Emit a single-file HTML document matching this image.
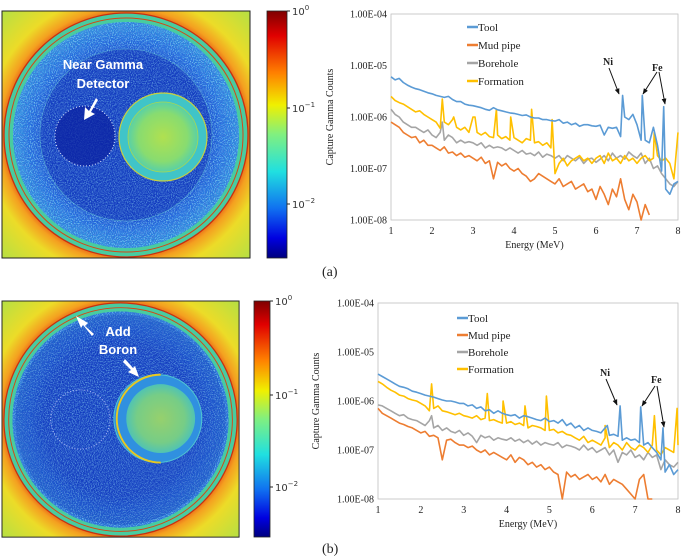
<!DOCTYPE html>
<html><head><meta charset="utf-8">
<style>
html,body{margin:0;padding:0;background:#fff;}
svg{display:block;}
.tk{font-family:"Liberation Serif",serif;font-size:10px;fill:#222;}
.lg{font-family:"Liberation Serif",serif;font-size:11px;fill:#222;}
.cb{font-family:"DejaVu Sans","Liberation Sans",sans-serif;font-size:10px;fill:#333;}
.ann{font-family:"Liberation Sans",sans-serif;font-weight:bold;font-size:13px;fill:#fff;}
</style></head>
<body>
<svg id="fig" width="685" height="560" viewBox="0 0 685 560" xmlns="http://www.w3.org/2000/svg">
<defs>
  <linearGradient id="jet" x1="0" y1="0" x2="0" y2="1">
    <stop offset="0" stop-color="#7f0000"/>
    <stop offset="0.1" stop-color="#e00000"/>
    <stop offset="0.25" stop-color="#ff8000"/>
    <stop offset="0.38" stop-color="#f0f000"/>
    <stop offset="0.5" stop-color="#80f080"/>
    <stop offset="0.65" stop-color="#20e0e0"/>
    <stop offset="0.8" stop-color="#1070f0"/>
    <stop offset="0.92" stop-color="#0000e0"/>
    <stop offset="1" stop-color="#00007f"/>
  </linearGradient>
  <radialGradient id="corner" gradientUnits="userSpaceOnUse" cx="124" cy="124" r="176">
    <stop offset="0.68" stop-color="#e86018"/>
    <stop offset="0.72" stop-color="#f4a020"/>
    <stop offset="0.8" stop-color="#ecdc28"/>
    <stop offset="1" stop-color="#b4e044"/>
  </radialGradient>
  <radialGradient id="field" gradientUnits="userSpaceOnUse" cx="124" cy="124" r="113">
    <stop offset="0.7" stop-color="#1444c8"/>
    <stop offset="0.85" stop-color="#2070e0"/>
    <stop offset="1" stop-color="#3098e0"/>
  </radialGradient>
  <radialGradient id="core" cx="0.5" cy="0.5" r="0.5">
    <stop offset="0" stop-color="#b0e050"/>
    <stop offset="0.7" stop-color="#88dc70"/>
    <stop offset="1" stop-color="#58d0a8"/>
  </radialGradient>
  <filter id="noise" x="0" y="0" width="100%" height="100%">
    <feTurbulence type="fractalNoise" baseFrequency="0.9" numOctaves="1" seed="4"/>
    <feColorMatrix type="matrix" values="0 0 0 0 0.05  0 0 0 0 0.15  0 0 0 0 0.7  0 0 0 4 -1.7"/>
  </filter>
  <filter id="noise2" x="0" y="0" width="100%" height="100%">
    <feTurbulence type="fractalNoise" baseFrequency="0.95" numOctaves="1" seed="11"/>
    <feColorMatrix type="matrix" values="0 0 0 0 0.3  0 0 0 0 0.8  0 0 0 0 0.95  0 0 0 4 -1.9"/>
  </filter>
  <clipPath id="clipA"><circle cx="124" cy="124" r="113"/></clipPath>
</defs>

<!-- Heatmap (a) -->
<g transform="translate(2,11)">
  <rect width="248" height="247" fill="url(#corner)"/>
  <circle cx="124" cy="124" r="122" fill="#48cca0" stroke="#c83010" stroke-width="1.3"/>
  <circle cx="124" cy="124" r="117" fill="none" stroke="#d04818" stroke-width="1"/>
  <circle cx="124" cy="124" r="113" fill="url(#field)"/>
  <circle cx="124" cy="124" r="86" fill="#1038c0" opacity="0.45"/>
  <circle cx="124" cy="124" r="86" fill="none" stroke="#60d0d0" stroke-width="0.6"/>
  <g clip-path="url(#clipA)">
    <rect width="248" height="247" filter="url(#noise)" opacity="0.9"/>
    <rect width="248" height="247" filter="url(#noise2)" opacity="0.7"/>
  </g>
  <circle cx="124" cy="124" r="86" fill="#0c30b0" opacity="0.3"/>
  <circle cx="83" cy="125" r="30" fill="#0a20a0" opacity="0.7"/>
  <circle cx="83" cy="125" r="30" fill="none" stroke="#e0e8ff" stroke-width="1" stroke-dasharray="1 2"/>
  <circle cx="161" cy="126" r="44" fill="#40c4c8" stroke="#c8d040" stroke-width="1.2"/>
  <circle cx="161" cy="126" r="35" fill="url(#core)" stroke="#a8d850" stroke-width="0.8"/>
  <rect width="248" height="247" fill="none" stroke="#222" stroke-width="1"/>
</g>
<text class="ann" x="103" y="69" text-anchor="middle">Near Gamma</text>
<text class="ann" x="103" y="88" text-anchor="middle">Detector</text>
<path d="M96,98 L89,111 L85,107 L84,120 L95,114 L91,112 L98,100 Z" fill="#fff"/>

<!-- Colorbar (a) -->
<g>
  <rect x="267" y="11" width="20" height="247" fill="url(#jet)" stroke="#222" stroke-width="0.8"/>
  <line x1="287" y1="11" x2="290" y2="11" stroke="#222"/>
  <line x1="287" y1="108" x2="290" y2="108" stroke="#222"/>
  <line x1="287" y1="204" x2="290" y2="204" stroke="#222"/>
  <text class="cb" x="292" y="15">10<tspan dy="-5" font-size="7">0</tspan></text>
  <text class="cb" x="292" y="112">10<tspan dy="-5" font-size="7">−1</tspan></text>
  <text class="cb" x="292" y="208">10<tspan dy="-5" font-size="7">−2</tspan></text>
</g>

<!-- Heatmap (b) -->
<g transform="translate(2,301) scale(0.956)">
  <rect width="248" height="247" fill="url(#corner)"/>
  <circle cx="124" cy="124" r="122" fill="#48cca0" stroke="#c83010" stroke-width="1.3"/>
  <circle cx="124" cy="124" r="117" fill="none" stroke="#d04818" stroke-width="1"/>
  <circle cx="124" cy="124" r="113" fill="url(#field)"/>
  <circle cx="124" cy="124" r="113" fill="#1038c0" opacity="0.35"/>
  <g clip-path="url(#clipA)">
    <rect width="248" height="247" filter="url(#noise)" opacity="0.9"/>
    <rect width="248" height="247" filter="url(#noise2)" opacity="0.7"/>
  </g>
  <circle cx="124" cy="124" r="110" fill="#0c30b0" opacity="0.25"/>
  <circle cx="82" cy="124" r="31" fill="none" stroke="#c0c8ff" stroke-width="1" stroke-dasharray="1 2"/>
  <circle cx="163" cy="123" r="46" fill="#3090e0" stroke="#50c8d0" stroke-width="1"/>
  <path d="M166,77 A46,46 0 0 0 166,169" fill="none" stroke="#e8c820" stroke-width="2"/>
  <circle cx="166" cy="123" r="36" fill="url(#core)" opacity="0.8"/>
  <rect width="248" height="247" fill="none" stroke="#222" stroke-width="1"/>
</g>
<text class="ann" x="118" y="336" text-anchor="middle">Add</text>
<text class="ann" x="118" y="354" text-anchor="middle">Boron</text>
<path d="M94,334 L85,326 L88,323 L76,316 L81,328 L83,325 L92,336 Z" fill="#fff"/>
<path d="M123,362 L131,370 L128,372 L139,377 L135,366 L133,368 L125,359 Z" fill="#fff"/>

<!-- Colorbar (b) -->
<g>
  <rect x="254" y="301" width="16" height="236" fill="url(#jet)" stroke="#222" stroke-width="0.8"/>
  <line x1="270" y1="301" x2="273" y2="301" stroke="#222"/>
  <line x1="270" y1="395" x2="273" y2="395" stroke="#222"/>
  <line x1="270" y1="487" x2="273" y2="487" stroke="#222"/>
  <text class="cb" x="275" y="305">10<tspan dy="-5" font-size="7">0</tspan></text>
  <text class="cb" x="275" y="399">10<tspan dy="-5" font-size="7">−1</tspan></text>
  <text class="cb" x="275" y="491">10<tspan dy="-5" font-size="7">−2</tspan></text>
</g>

<g id="chartA"></g>
<g id="chartB"></g>
<text x="322" y="276" font-family="Liberation Serif,serif" font-size="14" fill="#222">(a)</text>
<text x="322" y="553" font-family="Liberation Serif,serif" font-size="14" fill="#222">(b)</text>
</svg>

<script>
// Shared energy grid (MeV)
const energies = [1.0,1.1,1.2,1.3,1.4,1.5,1.6,1.7,1.8,1.9,2.0,2.1,2.2,2.3,2.4,2.5,2.6,2.7,2.8,2.9,3.0,3.1,3.2,3.3,3.4,3.5,3.6,3.7,3.8,3.9,4.0,4.1,4.2,4.3,4.4,4.5,4.6,4.7,4.8,4.9,5.0,5.1,5.2,5.3,5.4,5.5,5.6,5.7,5.8,5.9,6.0,6.1,6.2,6.3,6.4,6.5,6.6,6.7,6.8,6.9,7.0,7.1,7.2,7.3,7.4,7.5,7.6,7.7,7.8,7.9,8.0];
const xTicks = [1,2,3,4,5,6,7,8];
const yTickLabels = ["1.00E-04","1.00E-05","1.00E-06","1.00E-07","1.00E-08"];
const yTickExps = [-4,-5,-6,-7,-8];
const seriesNames = ["Tool","Mud pipe","Borehole","Formation"];
const seriesColors = ["#5b9bd5","#ed7d31","#a5a5a5","#ffc000"];

// Panel (a): log10 of capture gamma counts
const toolA = [-5.22,-5.28,-5.25,-5.33,-5.38,-5.42,-5.45,-5.47,-5.5,-5.53,-5.55,-5.58,-5.6,-5.62,-5.6,-5.66,-5.7,-5.7,-5.75,-5.77,-5.78,-5.8,-5.82,-5.85,-5.87,-5.82,-5.86,-5.88,-5.9,-5.92,-5.93,-5.95,-5.97,-5.96,-6.0,-6.02,-6.02,-6.05,-6.05,-6.07,-6.08,-6.05,-6.12,-6.1,-6.15,-6.12,-6.18,-6.15,-6.15,-6.17,-6.18,-6.16,-6.35,-6.2,-6.22,-6.2,-6.38,-6.0,-6.05,-5.95,-6.15,-6.45,-6.45,-6.5,-6.2,-6.55,-7.05,-7.4,-7.5,-7.3,-7.25];
const toolAPeakE = [6.65,7.13,7.65];
const toolAPeakV = [-5.58,-5.58,-5.8];
const mudA = [-6.1,-6.15,-6.2,-6.3,-6.35,-6.4,-6.38,-6.5,-6.45,-6.55,-6.55,-6.6,-6.65,-6.58,-6.7,-6.68,-6.75,-6.7,-6.78,-6.75,-6.8,-6.85,-6.78,-6.9,-6.85,-7.2,-6.88,-6.95,-6.9,-7.0,-7.05,-7.0,-7.1,-7.15,-7.25,-7.2,-7.1,-7.15,-7.2,-7.25,-7.3,-7.2,-7.35,-7.3,-7.25,-7.4,-7.35,-7.3,-7.45,-7.4,-7.6,-7.35,-7.5,-7.7,-7.4,-7.55,-7.2,-7.6,-7.8,-7.5,-7.65,-8.0,-7.7,-7.9];
const mudAPeakE = [];
const mudAPeakV = [];
const boreA = [-5.85,-5.95,-6.0,-6.1,-6.15,-6.2,-6.2,-6.25,-6.3,-6.25,-6.35,-6.4,-6.3,-6.45,-6.35,-6.4,-6.5,-6.45,-6.5,-6.48,-6.5,-6.55,-6.5,-6.6,-6.55,-6.6,-6.58,-6.6,-6.65,-6.6,-6.65,-6.7,-6.65,-6.72,-6.7,-6.75,-6.68,-6.78,-6.72,-6.75,-6.8,-6.75,-6.85,-6.75,-6.8,-6.85,-6.78,-6.9,-6.82,-6.8,-6.88,-6.82,-6.75,-6.85,-6.7,-6.8,-6.75,-6.82,-6.68,-6.75,-6.8,-6.7,-6.9,-6.8,-7.0,-6.95,-7.1,-7.2,-7.3,-7.35,-7.25];
const boreAPeakE = [2.25];
const boreAPeakV = [-6.1];
const formA = [-5.6,-5.68,-5.72,-5.75,-5.8,-5.85,-5.9,-5.88,-5.95,-6.0,-6.05,-6.1,-6.22,-6.1,-6.15,-6.05,-6.2,-6.25,-6.2,-6.3,-6.0,-6.3,-6.35,-6.3,-6.38,-6.4,-6.35,-6.42,-6.38,-6.45,-6.4,-6.45,-6.5,-6.42,-6.45,-6.5,-6.48,-6.55,-6.5,-6.6,-7.1,-6.9,-6.8,-6.95,-6.85,-6.8,-6.75,-6.85,-6.8,-6.9,-6.8,-6.75,-6.9,-6.7,-6.85,-6.8,-6.9,-6.75,-6.85,-6.8,-6.9,-6.8,-6.75,-6.85,-6.8,-6.75,-6.85,-6.8,-6.9,-7.2,-6.3];
const formAPeakE = [2.25,2.53,3.05,3.57,3.92,4.43,4.93,7.42];
const formAPeakV = [-5.65,-6.0,-6.0,-5.85,-6.0,-5.85,-6.05,-6.3];

// Panel (b)
const toolB = [-5.45,-5.5,-5.55,-5.6,-5.65,-5.7,-5.72,-5.75,-5.8,-5.82,-5.85,-5.88,-5.9,-5.92,-5.95,-5.98,-6.0,-6.0,-6.02,-6.05,-6.05,-6.1,-6.08,-6.15,-6.12,-6.2,-6.18,-6.25,-6.2,-6.25,-6.28,-6.3,-6.28,-6.35,-6.3,-6.32,-6.35,-6.38,-6.4,-6.35,-6.42,-6.4,-6.45,-6.38,-6.5,-6.45,-6.55,-6.5,-6.6,-6.55,-6.6,-6.62,-6.65,-6.55,-6.7,-6.68,-6.72,-6.8,-6.75,-6.8,-6.78,-6.85,-6.9,-6.85,-6.95,-7.05,-7.2,-7.45,-7.3,-7.5,-7.4];
const toolBPeakE = [6.35,6.65,7.13,7.65];
const toolBPeakV = [-6.5,-6.1,-6.12,-6.55];
const mudB = [-6.15,-6.25,-6.3,-6.35,-6.4,-6.45,-6.48,-6.52,-6.55,-6.6,-6.65,-6.62,-6.72,-6.7,-6.75,-7.2,-6.8,-6.78,-6.85,-6.9,-6.9,-6.95,-6.92,-7.0,-7.05,-7.0,-7.1,-7.05,-7.1,-7.15,-7.2,-7.1,-7.25,-7.15,-7.2,-7.3,-7.25,-7.35,-7.3,-7.4,-7.35,-7.45,-7.5,-8.0,-7.45,-7.55,-7.5,-7.6,-7.55,-7.5,-7.6,-7.55,-7.65,-7.5,-7.7,-7.6,-7.65,-7.7,-7.8,-7.9,-8.0,-7.6,-7.5,-8.0,-8.0];
const mudBPeakE = [];
const mudBPeakV = [];
const boreB = [-6.08,-6.1,-6.15,-6.2,-6.25,-6.3,-6.28,-6.35,-6.38,-6.4,-6.45,-6.5,-6.4,-6.55,-6.5,-6.6,-6.55,-6.62,-6.65,-6.6,-6.7,-6.65,-6.72,-6.85,-6.7,-6.75,-6.72,-6.8,-6.75,-6.78,-6.8,-6.75,-6.82,-6.78,-6.85,-6.8,-6.88,-6.82,-6.9,-6.85,-6.88,-6.9,-6.85,-6.95,-6.9,-6.92,-6.95,-7.0,-6.9,-7.0,-6.95,-7.05,-7.0,-6.95,-7.1,-7.0,-7.25,-7.05,-7.1,-7.0,-7.15,-7.1,-7.2,-7.05,-7.15,-7.1,-7.4,-7.2,-7.3,-7.35,-7.25];
const boreBPeakE = [2.25];
const boreBPeakV = [-6.3];
const formB = [-5.6,-5.65,-5.72,-5.78,-5.82,-5.88,-5.9,-5.95,-5.98,-6.0,-6.05,-6.1,-6.2,-6.15,-6.1,-6.2,-6.22,-6.25,-6.28,-6.25,-6.3,-6.32,-6.35,-6.3,-6.38,-6.35,-6.4,-6.38,-6.42,-6.45,-6.45,-6.42,-6.48,-6.45,-6.5,-6.55,-6.5,-6.52,-6.55,-6.6,-6.6,-6.58,-6.65,-6.62,-6.68,-6.7,-6.75,-6.8,-6.72,-6.85,-6.8,-6.85,-6.9,-6.75,-6.95,-6.85,-6.9,-7.0,-6.85,-6.95,-7.0,-6.9,-6.95,-7.05,-6.9,-7.0,-7.1,-6.95,-7.0,-7.05,-6.9];
const formBPeakE = [2.25,3.55,3.92,4.43,4.93,6.3,7.45,7.98];
const formBPeakV = [-5.65,-5.85,-6.0,-6.1,-5.9,-6.5,-6.3,-6.15];

const NS = "http://www.w3.org/2000/svg";
function mk(parent, tag, attrs, text) {
  const e = document.createElementNS(NS, tag);
  for (const k in attrs) e.setAttribute(k, attrs[k]);
  if (text !== undefined) e.textContent = text;
  parent.appendChild(e);
  return e;
}

function drawChart(g, box, series, legend, ann) {
  const xs = e => box.x0 + (e - 1) / 7 * (box.x1 - box.x0);
  const ys = l => box.y0 + (-4 - l) / 4 * (box.y1 - box.y0);
  const frame = mk(g, "rect", {x: box.x0, y: box.y0, width: box.x1 - box.x0, height: box.y1 - box.y0, fill: "none", stroke: "#bfbfbf", "stroke-width": 0.8});
  
  
  for (let i = 0; i < yTickExps.length; i++) {
    const t = mk(g, "text", {class: "tk", x: box.x0 - 4, y: ys(yTickExps[i]) + 3.5, "text-anchor": "end"}, yTickLabels[i]);
    
    
  }
  for (let i = 0; i < xTicks.length; i++) {
    const t = mk(g, "text", {class: "tk", x: xs(xTicks[i]), y: box.y1 + 14, "text-anchor": "middle"}, String(xTicks[i]));
    
    
  }
  const xt = mk(g, "text", {class: "tk", x: (box.x0 + box.x1) / 2, y: box.y1 + 28, "text-anchor": "middle", "font-size": "11"}, "Energy (MeV)");
  
  
  const cy = (box.y0 + box.y1) / 2;
  const yt = mk(g, "text", {class: "tk", x: box.ytx, y: cy, "text-anchor": "middle", "font-size": "11", transform: "rotate(-90 " + box.ytx + " " + cy + ")"}, "Capture Gamma Counts");
  
  
  const order = [1, 2, 3, 0];
  order.forEach(si => {
    const s = series[si];
    const pts = [];
    for (let i = 0; i < s.vals.length; i++) pts.push([energies[i], s.vals[i]]);
    for (let i = 0; i < s.pe.length; i++) pts.push([s.pe[i], s.pv[i]]);
    pts.sort((a, b) => a[0] - b[0]);
    const d = pts.map((p, i) => (i ? "L" : "M") + xs(p[0]).toFixed(1) + "," + ys(Math.max(-8, p[1])).toFixed(1)).join("");
    const path = mk(g, "path", {d: d, fill: "none", stroke: seriesColors[si], "stroke-width": 1.6, "stroke-linejoin": "round"});
    
    
  });
  for (let i = 0; i < seriesNames.length; i++) {
    const yy = legend.y + i * legend.dy;
    const ln = mk(g, "line", {x1: legend.x, y1: yy, x2: legend.x + 11, y2: yy, stroke: seriesColors[i], "stroke-width": 2.5});
    
    
    const lt = mk(g, "text", {class: "lg", x: legend.x + 11, y: yy + 4}, seriesNames[i]);
    
    
  }
  const ni = mk(g, "text", {class: "tk", x: ann.nx, y: ann.ny, "font-weight": "bold", "font-size": "11"}, "Ni");
  
  
  const fe = mk(g, "text", {class: "tk", x: ann.fx, y: ann.fy, "font-weight": "bold", "font-size": "11"}, "Fe");
  
  
  ann.arrows.forEach(a => {
    const ar = mk(g, "line", {x1: a[0], y1: a[1], x2: a[2], y2: a[3], stroke: "#111", "stroke-width": 1, "marker-end": "url(#ah)"});
    
    
  });
}

const defs = document.querySelector("#fig defs");
const mkr = mk(defs, "marker", {id: "ah", viewBox: "0 0 10 10", refX: "9", refY: "5", markerWidth: "6", markerHeight: "6", orient: "auto"});
mk(mkr, "path", {d: "M0,1 L10,5 L0,9 Z", fill: "#111"});

drawChart(document.getElementById("chartA"),
  {x0: 391, x1: 678, y0: 14, y1: 220, ytx: 333},
  [{vals: toolA, pe: toolAPeakE, pv: toolAPeakV}, {vals: mudA, pe: mudAPeakE, pv: mudAPeakV}, {vals: boreA, pe: boreAPeakE, pv: boreAPeakV}, {vals: formA, pe: formAPeakE, pv: formAPeakV}],
  {x: 467, y: 27, dy: 18},
  {nx: 603, ny: 65, fx: 652, fy: 71, arrows: [[609, 68, 619, 94], [657, 72, 643, 94], [659, 72, 665, 104]]}
);
drawChart(document.getElementById("chartB"),
  {x0: 378, x1: 678, y0: 303, y1: 499, ytx: 319},
  [{vals: toolB, pe: toolBPeakE, pv: toolBPeakV}, {vals: mudB, pe: mudBPeakE, pv: mudBPeakV}, {vals: boreB, pe: boreBPeakE, pv: boreBPeakV}, {vals: formB, pe: formBPeakE, pv: formBPeakV}],
  {x: 457, y: 318, dy: 17},
  {nx: 600, ny: 376, fx: 651, fy: 383, arrows: [[606, 379, 617, 405], [655, 386, 642, 406], [657, 386, 664, 427]]}
);
</script>
</body></html>
